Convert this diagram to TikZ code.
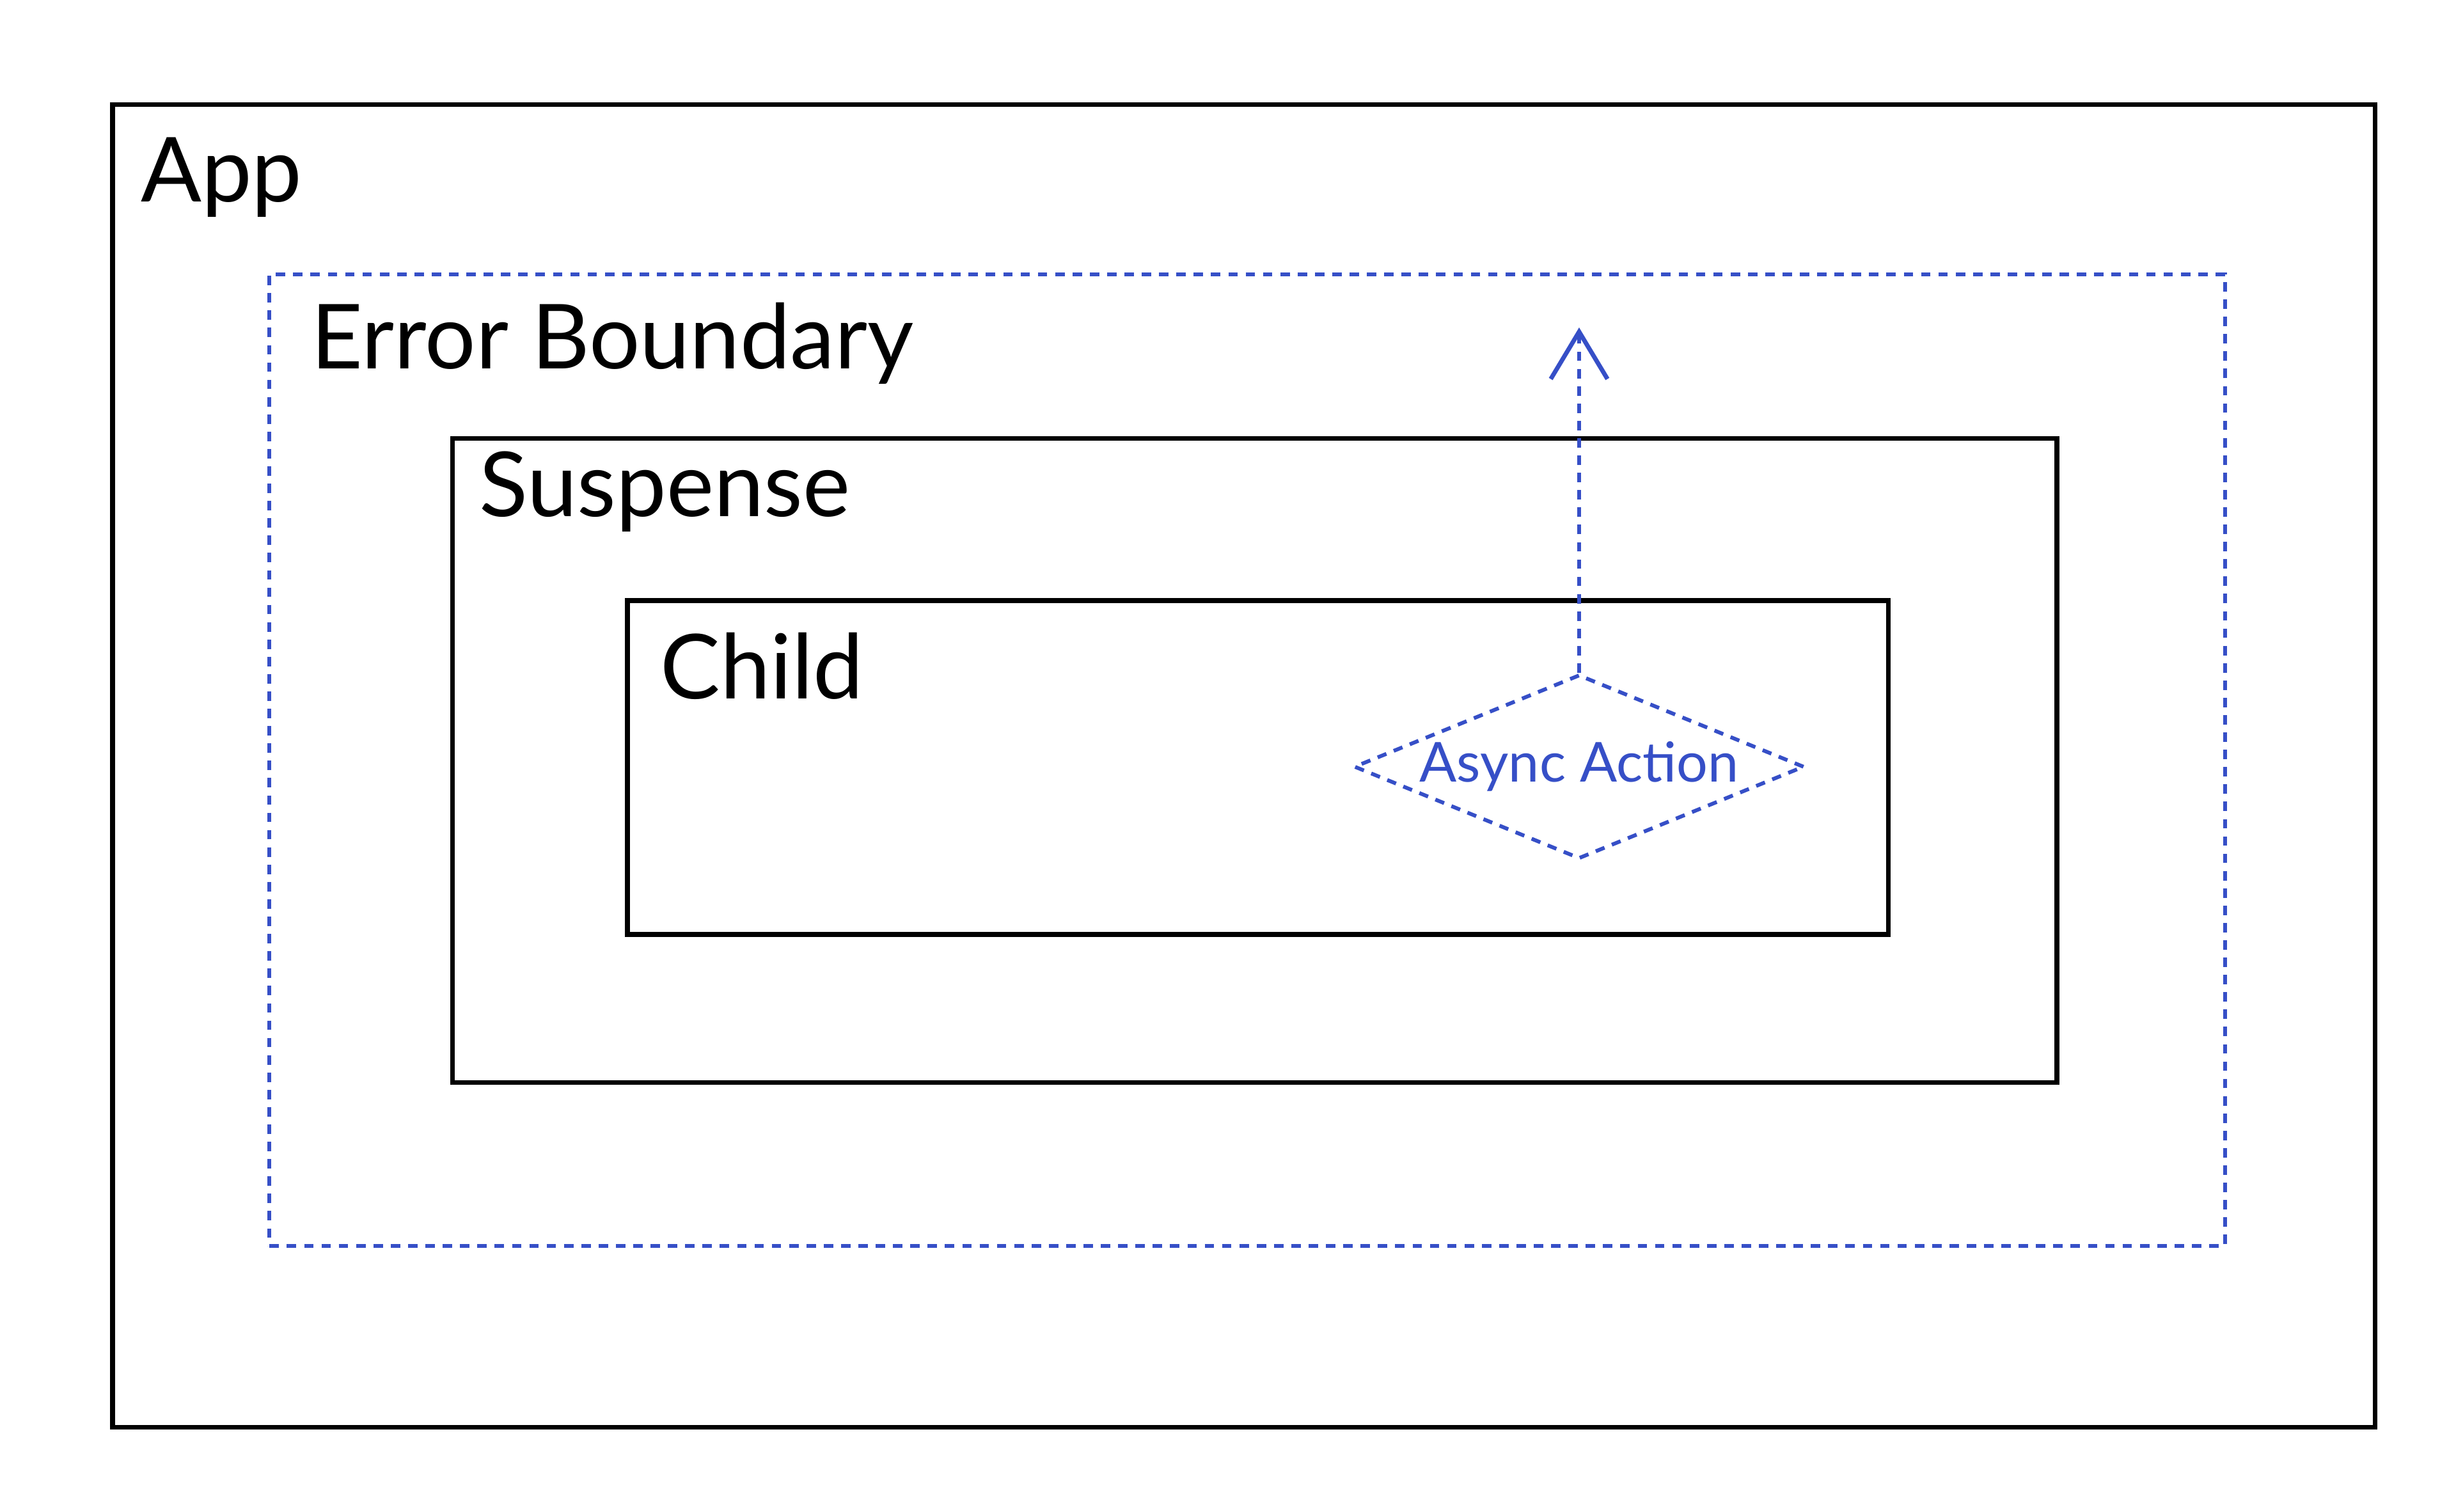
\documentclass[tikz,border=0pt]{standalone}
\usepackage{fontspec}
\setmainfont{Lato}
\usetikzlibrary{arrows.meta,shapes.geometric,positioning}
\definecolor{asyncblue}{HTML}{364FC7}

\begin{document}
\begin{tikzpicture}[x=1pt,y=-1pt,>={Straight Barb[length=30pt,width=36pt,line width=2.8pt]},
    box/.style={draw,rectangle,line width=3pt,inner sep=0pt,anchor=north west},
    dashbox/.style={draw=asyncblue,rectangle,line width=2.4pt,dash pattern=on 6pt off 5pt,inner sep=0pt,anchor=north west},
    title/.style={anchor=base west,font=\fontsize{57}{66}\selectfont}]
    \useasboundingbox (0,0) rectangle (1560,960);

    \node[box,minimum width=1437pt,minimum height=840pt]     (app)      at (70,65)   {};
    \node[dashbox,minimum width=1242pt,minimum height=617pt] (boundary) at (170,173) {};
    \node[box,minimum width=1019pt,minimum height=409pt]     (suspense) at (286,277) {};
    \node[box,minimum width=801pt,minimum height=212pt]      (child)    at (397,380) {};

    \node[title] (appl)      at ([shift={(16,63)}]app.north west)      {App};
    \node[title] (boundaryl) at ([shift={(24,61)}]boundary.north west) {Error Boundary};
    \node[title] (suspensel) at ([shift={(15,51)}]suspense.north west) {Suspense};
    \node[title] (childl)    at ([shift={(19,64)}]child.north west)    {Child};

    \node[diamond,draw=asyncblue,text=asyncblue,line width=2.4pt,dash pattern=on 6pt off 5pt,
          minimum width=286pt,minimum height=117pt,inner sep=0pt,aspect=2.44,
          font=\fontsize{35}{40}\selectfont] (async) at (1003,487) {Async Action};
    \coordinate (up) at (1003,208);

    \draw[->,asyncblue,line width=2.4pt,dash pattern=on 6pt off 5pt] (async.north) -- (up);

\end{tikzpicture}
\end{document}
